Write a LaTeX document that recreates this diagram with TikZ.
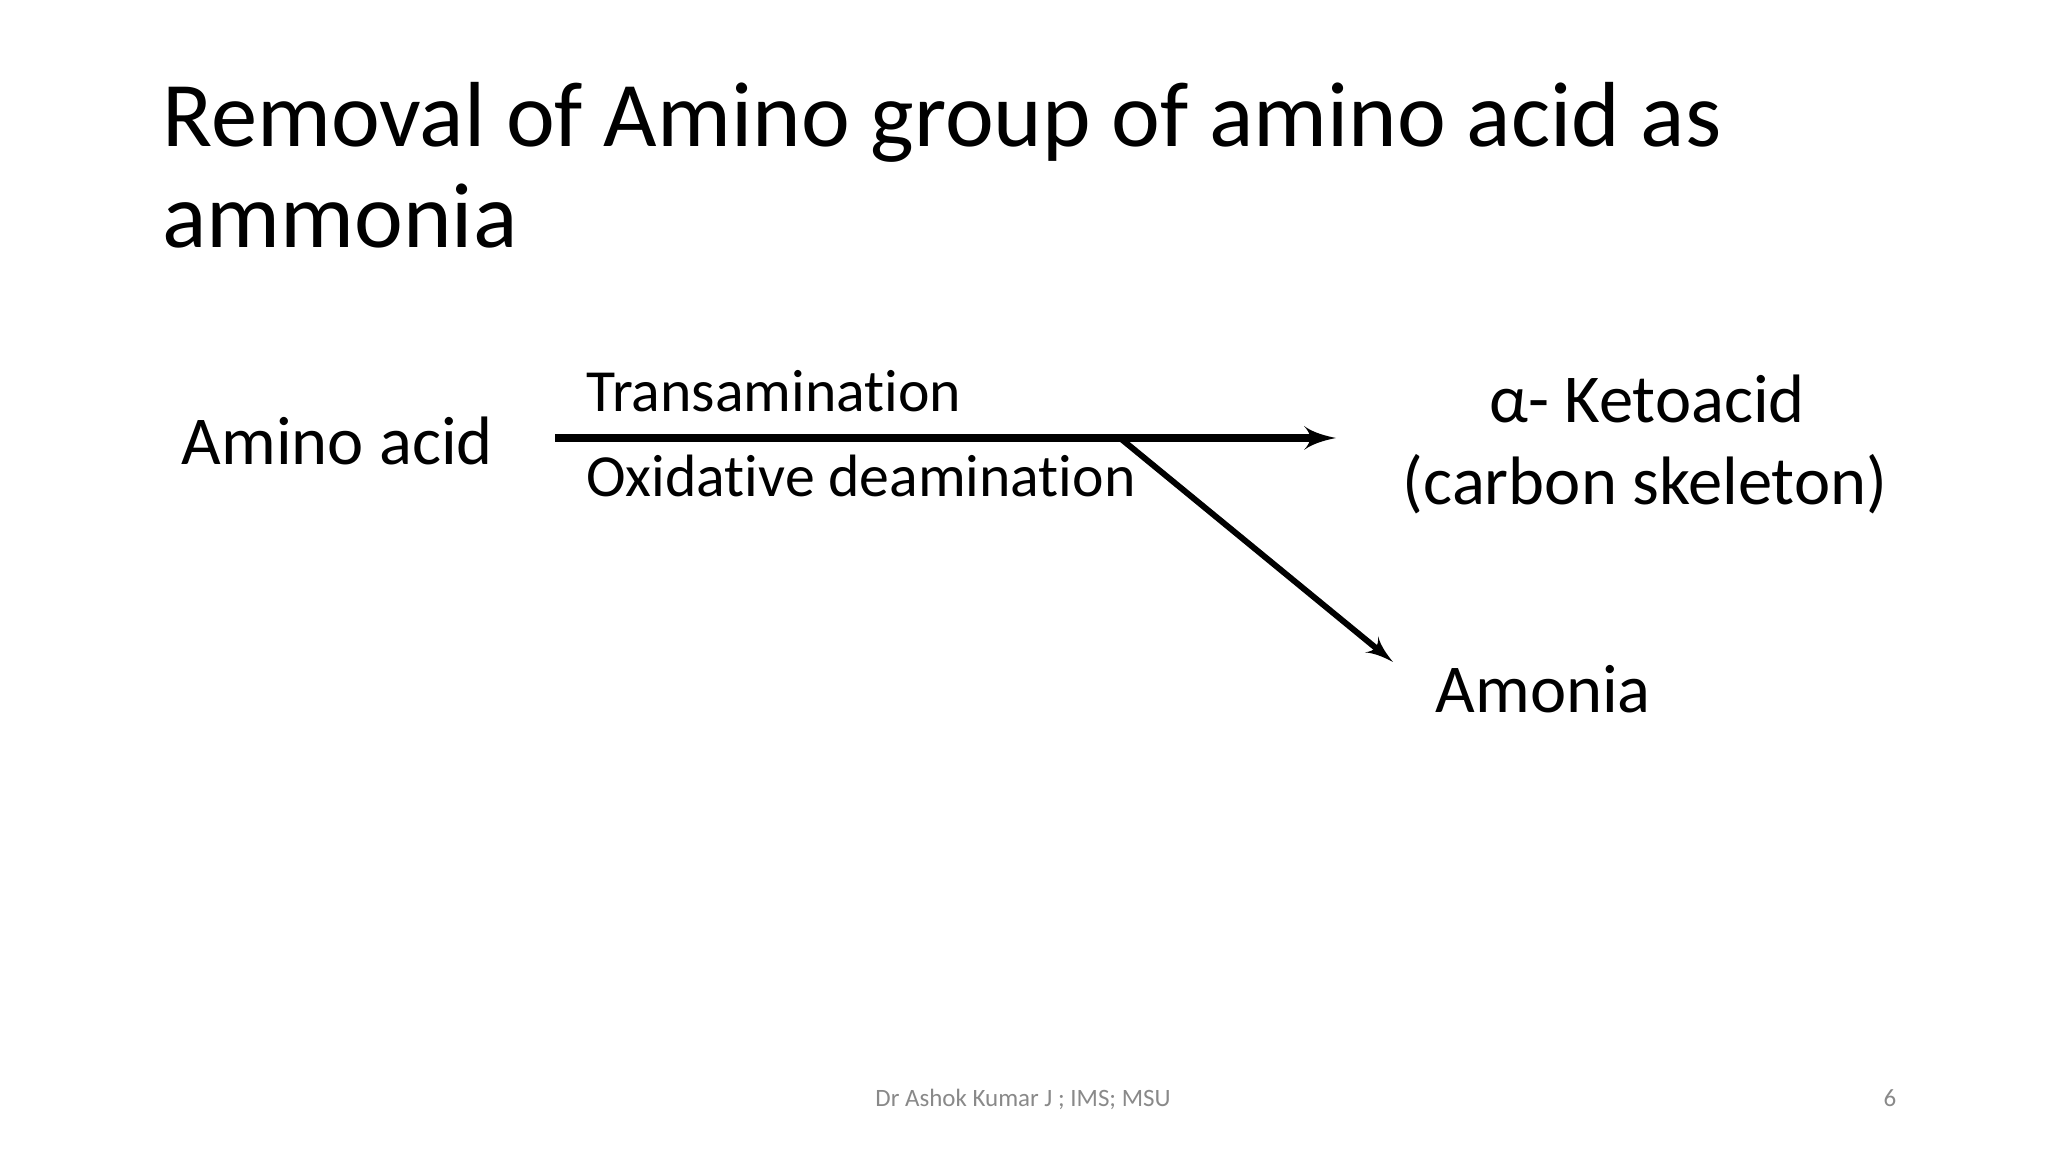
\documentclass[tikz,border=0pt]{standalone}
\usepackage{fontspec}
\setmainfont{Carlito}[Ligatures=NoCommon]
\usetikzlibrary{arrows}
\definecolor{footgray}{HTML}{898989}
\tikzset{
    every node/.style={inner sep=0pt},
    title/.style={anchor=base west,font=\fontsize{26.3}{30}\selectfont},
    chem/.style={anchor=base west,font=\fontsize{19.5}{23}\selectfont},
    enzyme/.style={anchor=base west,font=\fontsize{17}{20}\selectfont},
    foot/.style={anchor=base,text=footgray,font=\fontsize{7.1}{9}\selectfont},
    edge/.style={->,> = latex',line width=2.1pt},
    thinedge/.style={->,> = latex',line width=1.7pt}
}
\begin{document}
\begin{tikzpicture}
\useasboundingbox (0,0) rectangle (20.48,11.52);

\node[title] (t1) at (1.62,10.05) {Removal of Amino group of amino acid as};
\node[title] (t2) at (1.62,9.04) {ammonia};

\node[chem] (amino) at (1.81,6.87) {Amino acid};
\node[enzyme] (trans) at (5.86,7.40) {Transamination};
\node[enzyme] (oxid) at (5.86,6.55) {Oxidative deamination};
\node[chem,anchor=base] (keto) at (16.47,7.29) {α- Ketoacid};
\node[chem,anchor=base] (skel) at (16.45,6.47) {(carbon skeleton)};
\node[chem] (amonia) at (14.35,4.39) {Amonia};

\coordinate (start) at (5.55,7.14);
\coordinate (end) at (13.36,7.14);
\coordinate (split) at (11.20,7.14);
\coordinate (nh3) at (13.93,4.90);

\draw[edge] (start) -- (end);
\draw[thinedge] (split) -- (nh3);

\node[foot] (author) at (10.23,0.45) {Dr Ashok Kumar J ; IMS; MSU};
\node[foot] (page) at (18.90,0.45) {6};

\end{tikzpicture}
\end{document}
